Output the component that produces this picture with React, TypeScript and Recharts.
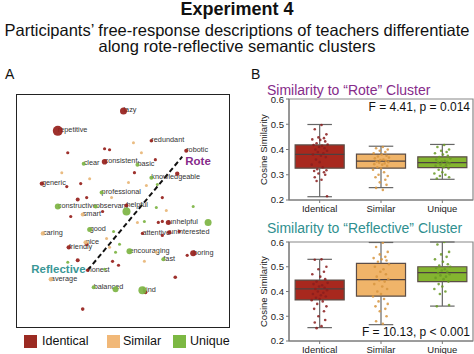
import React from 'react';
import { ScatterChart, Scatter, XAxis, YAxis, ReferenceArea, ReferenceLine } from 'recharts';

const FONT = '"Liberation Sans", Arial, sans-serif';

// ---- panel A: semantic map (x, y, radius, word) ----
type Row = [number, number, number, string?];

const mapIdentical: Row[] = [
  [107, 217, 3.5, 'lazy'], [41, 197, 5, 'repetitive'], [135, 187, 1.8, 'redundant'], [170, 177, 2, 'robotic'],
  [88, 179, 1.6], [93, 178, 1.6], [51, 175, 1.6], [88, 166, 2.8, 'consistent'], [139, 168, 1.6],
  [118, 155, 1.6], [161, 154, 2.2], [25, 144, 2.2, 'generic'], [50, 141, 1.6], [64, 144, 1.6],
  [61, 128, 2], [70, 130, 1.6], [146, 130, 1.6], [110, 122, 2, 'helpful'], [86, 116, 1.6],
  [54, 111, 1.6], [152, 105, 2.5, 'unhelpful'], [142, 105, 1.6], [146, 106, 1.6], [126, 94, 1.6, 'attentive'],
  [153, 95, 2.2, 'uninterested'], [146, 92, 1.6], [163, 96, 1.6], [70, 83, 1.8], [52, 80, 2.2, 'friendly'],
  [177, 74, 3, 'boring'], [171, 72, 1.6], [61, 67, 2], [96, 66, 1.6], [102, 62, 1.6],
  [71, 57, 1.8, 'honest'], [159, 50, 1.8], [129, 35, 2], [66, 18, 1.8],
];

const mapSimilar: Row[] = [
  [117, 185, 1.5], [125, 175, 1.5], [45, 155, 1.5], [73, 149, 1.5], [112, 145, 1.5], [130, 142, 1.5],
  [95, 130, 1.5], [66, 113, 2, 'smart'], [150, 117, 1.5], [121, 105, 1.5], [26, 94, 2.2, 'caring'],
  [69, 85, 2.2, 'nice'], [90, 89, 1.5], [93, 80, 1.5], [140, 75, 1.5], [128, 66, 1.5], [34, 48, 2.2, 'average'],
];

const mapUnique: Row[] = [
  [67, 164, 2, 'clear'], [121, 163, 2, 'basic'], [135, 150, 2, 'knowledgeable'], [141, 143, 1.5],
  [85, 135, 2, 'professional'], [41, 121, 3, 'constructive'], [79, 121, 2, 'observant'], [110, 116, 4],
  [140, 120, 1.5], [177, 121, 1.5], [128, 106, 1.5], [192, 105, 3.5], [73, 98, 2.5, 'good'],
  [103, 83, 1.5], [97, 96, 1.5], [113, 76, 3, 'encouraging'], [99, 75, 1.5], [147, 68, 2, 'fast'],
  [51, 65, 1.5], [88, 58, 1.5], [77, 40, 2, 'balanced'], [99, 38, 3], [126, 37, 4, 'kind'],
];

// dashed rote-reflective axis, in map units
const axisEnds = [
  { x: 71, y: 57, text: 'Reflective' },
  { x: 166, y: 171, text: 'Rote' },
];

// ---- panel B: box plots ----
const groups = ['Identical', 'Similar', 'Unique'];
const yTicks = [0.2, 0.3, 0.4, 0.5, 0.6];

const roteLow = [0.213, 0.249, 0.282];
const roteQ1 = [0.326, 0.326, 0.328];
const roteMed = [0.381, 0.354, 0.348];
const roteQ3 = [0.418, 0.382, 0.371];
const roteHigh = [0.499, 0.413, 0.42];

const reflLow = [0.254, 0.266, 0.341];
const reflQ1 = [0.366, 0.381, 0.44];
const reflMed = [0.411, 0.448, 0.476];
const reflQ3 = [0.446, 0.514, 0.5];
const reflHigh = [0.53, 0.598, 0.6];

const roteIdentical = [0.497, 0.48, 0.46, 0.448, 0.445, 0.44, 0.438, 0.432, 0.425, 0.42, 0.418, 0.415, 0.41, 0.405, 0.4, 0.395, 0.39, 0.385, 0.38, 0.375, 0.37, 0.36, 0.35, 0.34, 0.33, 0.322, 0.318, 0.315, 0.31, 0.305, 0.3, 0.29, 0.28, 0.275, 0.215];
const roteSimilar = [0.41, 0.405, 0.4, 0.395, 0.39, 0.385, 0.38, 0.375, 0.372, 0.368, 0.365, 0.36, 0.358, 0.355, 0.352, 0.35, 0.348, 0.345, 0.342, 0.34, 0.335, 0.33, 0.325, 0.32, 0.31, 0.3, 0.295, 0.29, 0.28, 0.27, 0.26, 0.248, 0.24];
const roteUnique = [0.418, 0.41, 0.4, 0.395, 0.39, 0.385, 0.38, 0.375, 0.37, 0.365, 0.36, 0.355, 0.352, 0.35, 0.348, 0.345, 0.34, 0.338, 0.335, 0.33, 0.325, 0.32, 0.31, 0.305, 0.3, 0.295, 0.29, 0.285];

const reflIdentical = [0.53, 0.528, 0.5, 0.49, 0.48, 0.47, 0.46, 0.45, 0.44, 0.435, 0.43, 0.425, 0.42, 0.415, 0.41, 0.405, 0.4, 0.395, 0.39, 0.385, 0.38, 0.375, 0.37, 0.365, 0.36, 0.35, 0.34, 0.33, 0.32, 0.3, 0.285, 0.275, 0.26, 0.252];
const reflSimilar = [0.597, 0.58, 0.56, 0.55, 0.54, 0.535, 0.53, 0.525, 0.52, 0.51, 0.5, 0.49, 0.48, 0.47, 0.46, 0.45, 0.445, 0.44, 0.43, 0.42, 0.41, 0.4, 0.39, 0.38, 0.37, 0.36, 0.35, 0.34, 0.33, 0.32, 0.3, 0.28, 0.27];
const reflUnique = [0.6, 0.59, 0.56, 0.55, 0.54, 0.53, 0.52, 0.51, 0.505, 0.5, 0.495, 0.49, 0.485, 0.48, 0.475, 0.47, 0.465, 0.46, 0.455, 0.45, 0.44, 0.43, 0.42, 0.41, 0.4, 0.39, 0.345, 0.34];

// horizontal jitter (fraction of a category)
const jitter = [0.03, -0.08, 0.11, -0.02, 0.07, -0.12, 0.01, 0.09, -0.05, 0.13, -0.1, 0.04, -0.01, 0.08, -0.07, 0.12, -0.03, 0.06, -0.11, 0.02, 0.1, -0.06, 0.0, -0.13, 0.05, -0.04, 0.11, -0.09, 0.07, -0.02, 0.09, -0.08, 0.03, -0.05, 0.12];

const mapColors = { I: '#961f1b', S: '#e8b677', U: '#7db443' };
const boxFill = ['#a8281e', '#f0b469', '#84b52f'];
const dotFill = ['#8a1d1d', '#d7953f', '#6a9a26'];
const legendColors = ['#9b2a22', '#f1b878', '#7cb843'];

const toPoints = (rows: Row[], g: 'I' | 'S' | 'U') =>
  rows.map(([x, y, r, word]) => ({ x, y, r, word, g }));

const mapPoints = [...toPoints(mapIdentical, 'I'), ...toPoints(mapSimilar, 'S'), ...toPoints(mapUnique, 'U')];
const mapLabels = mapPoints.filter((p) => p.word);

const MapPanel = () => (
  <div style={{ position: 'absolute', left: 16, top: 94, width: 212, height: 232, border: '1.6px solid #222' }}>
    <ScatterChart width={212} height={232} margin={{ top: 0, right: 0, bottom: 0, left: 0 }}>
      <XAxis type="number" dataKey="x" domain={[0, 213]} hide />
      <YAxis type="number" dataKey="y" domain={[0, 233]} hide />
      <ReferenceLine
        segment={[{ x: axisEnds[0].x, y: axisEnds[0].y }, { x: axisEnds[1].x, y: axisEnds[1].y }]}
        stroke="#111"
        strokeWidth={2}
        strokeDasharray="5 3"
      />
      <Scatter
        data={mapLabels}
        isAnimationActive={false}
        shape={(p: any) => (
          <text x={p.cx} y={p.cy} dy={-1} dominantBaseline="central" fontSize={7.3} fill="#333" fontFamily={FONT}>
            {p.payload.word}
          </text>
        )}
      />
      <Scatter
        data={mapPoints}
        isAnimationActive={false}
        shape={(p: any) => (
          <circle cx={p.cx} cy={p.cy} r={p.payload.r} fill={mapColors[p.payload.g as 'I']} fillOpacity={0.92} />
        )}
      />
      <Scatter
        data={axisEnds}
        isAnimationActive={false}
        shape={(p: any) => {
          const rote = p.payload.text === 'Rote';
          return (
            <text
              x={rote ? p.cx + 3 : p.cx - 2}
              y={rote ? p.cy + 4 : p.cy - 1}
              textAnchor={rote ? 'start' : 'end'}
              dominantBaseline="central"
              fontSize={11.5}
              fontWeight="bold"
              fill={rote ? '#862b8a' : '#3a9796'}
              fontFamily={FONT}
            >
              {p.payload.text}
            </text>
          );
        }}
      />
    </ScatterChart>
  </div>
);

type BoxProps = {
  top: number;
  height: number;
  low: number[];
  q1: number[];
  med: number[];
  q3: number[];
  high: number[];
  values: number[][];
};

const BoxChart = ({ top, height, low, q1, med, q3, high, values }: BoxProps) => (
  <div style={{ position: 'absolute', left: 240, top }}>
    <ScatterChart width={234} height={height} margin={{ top: 4, right: 1, bottom: 0, left: 19 }}>
      <XAxis
        type="number"
        dataKey="x"
        domain={[-0.5, 2.5]}
        ticks={[0, 1, 2]}
        tickFormatter={(v: number) => groups[v]}
        tick={{ fontSize: 9.5, fill: '#222', fontFamily: FONT }}
        tickSize={3}
        axisLine={{ stroke: '#777' }}
        tickLine={{ stroke: '#777' }}
        height={20}
        allowDataOverflow
      />
      <YAxis
        type="number"
        dataKey="y"
        domain={[0.2, 0.6]}
        ticks={yTicks}
        tickFormatter={(v: number) => v.toFixed(1)}
        tick={{ fontSize: 9.5, fill: '#222', fontFamily: FONT }}
        tickSize={3}
        axisLine={{ stroke: '#777' }}
        tickLine={{ stroke: '#777' }}
        width={30}
        allowDataOverflow
      />
      <ReferenceArea x1={-0.5} x2={2.5} y1={0.2} y2={0.6} fill="none" stroke="#888" strokeWidth={1.2} />
      {groups.map((g, i) => (
        <React.Fragment key={g}>
          <ReferenceLine segment={[{ x: i, y: low[i] }, { x: i, y: q1[i] }]} stroke="#666" strokeWidth={1.2} />
          <ReferenceLine segment={[{ x: i, y: q3[i] }, { x: i, y: high[i] }]} stroke="#666" strokeWidth={1.2} />
          <ReferenceLine segment={[{ x: i - 0.2, y: low[i] }, { x: i + 0.2, y: low[i] }]} stroke="#666" strokeWidth={1.2} />
          <ReferenceLine segment={[{ x: i - 0.2, y: high[i] }, { x: i + 0.2, y: high[i] }]} stroke="#666" strokeWidth={1.2} />
          <ReferenceArea x1={i - 0.4} x2={i + 0.4} y1={q1[i]} y2={q3[i]} fill={boxFill[i]} fillOpacity={1} stroke="#5b4d47" strokeWidth={1.2} />
          <ReferenceLine segment={[{ x: i - 0.4, y: med[i] }, { x: i + 0.4, y: med[i] }]} stroke="#4d4040" strokeWidth={1.2} />
        </React.Fragment>
      ))}
      {groups.map((g, i) => (
        <Scatter
          key={g}
          data={values[i].map((v, k) => ({ x: i + jitter[k % jitter.length], y: v }))}
          isAnimationActive={false}
          shape={(p: any) => <circle cx={p.cx} cy={p.cy} r={1.3} fill={dotFill[i]} fillOpacity={0.85} />}
        />
      ))}
    </ScatterChart>
  </div>
);

const abs = (style: React.CSSProperties): React.CSSProperties => ({
  position: 'absolute',
  fontFamily: FONT,
  whiteSpace: 'nowrap',
  ...style,
});

const YLabel = ({ cy }: { cy: number }) => (
  <div style={abs({ left: 229, top: cy - 6, width: 70, height: 12, lineHeight: '12px', fontSize: 9.5, textAlign: 'center', color: '#222', transform: 'rotate(-90deg)' })}>
    Cosine Similarity
  </div>
);

export default function App() {
  return (
    <div style={{ position: 'absolute', left: 0, top: 0, width: 474, height: 354, background: '#fff', overflow: 'hidden' }}>
      <div style={abs({ left: 0, top: 0, width: 474, textAlign: 'center', fontSize: 18, fontWeight: 'bold', lineHeight: '18px', color: '#111' })}>
        Experiment 4
      </div>
      <div style={abs({ left: 0, top: 22, width: 474, textAlign: 'center', fontSize: 16.5, lineHeight: '16px', color: '#111' })}>
        Participants’ free-response descriptions of teachers differentiate
        <br />
        along rote-reflective semantic clusters
      </div>
      <div style={abs({ left: 5, top: 67, fontSize: 14, lineHeight: '14px', color: '#111' })}>A</div>
      <div style={abs({ left: 251, top: 67, fontSize: 14, lineHeight: '14px', color: '#111' })}>B</div>

      <MapPanel />

      {groups.map((g, i) => (
        <React.Fragment key={g}>
          <div style={{ position: 'absolute', left: [24, 107, 173][i], top: 335, width: 13, height: 13, background: legendColors[i] }} />
          <div style={abs({ left: [42, 123, 190][i], top: 334, fontSize: 12.5, lineHeight: '14px', color: '#111' })}>{g}</div>
        </React.Fragment>
      ))}

      <div style={abs({ left: 267, top: 82, fontSize: 14, lineHeight: '16px', color: '#862b8a' })}>
        Similarity to “Rote” Cluster
      </div>
      <BoxChart top={95} height={125} low={roteLow} q1={roteQ1} med={roteMed} q3={roteQ3} high={roteHigh} values={[roteIdentical, roteSimilar, roteUnique]} />
      <YLabel cy={150} />
      <div style={abs({ left: 300, top: 100, width: 170, textAlign: 'right', fontSize: 12, lineHeight: '14px', color: '#111' })}>
        F = 4.41, p = 0.014
      </div>

      <div style={abs({ left: 267, top: 220, fontSize: 14, lineHeight: '16px', color: '#2f8f8f' })}>
        Similarity to “Reflective” Cluster
      </div>
      <BoxChart top={238} height={123} low={reflLow} q1={reflQ1} med={reflMed} q3={reflQ3} high={reflHigh} values={[reflIdentical, reflSimilar, reflUnique]} />
      <YLabel cy={292} />
      <div style={abs({ left: 300, top: 325, width: 170, textAlign: 'right', fontSize: 12, lineHeight: '14px', color: '#111' })}>
        F = 10.13, p &lt; 0.001
      </div>
    </div>
  );
}
